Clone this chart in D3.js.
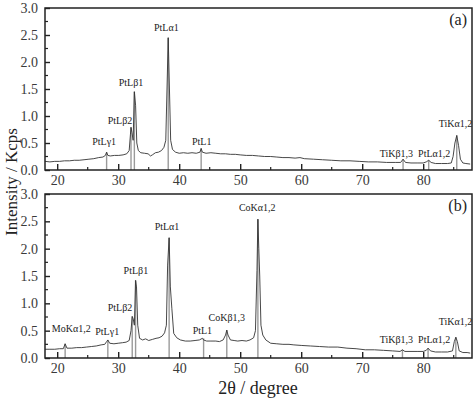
<!DOCTYPE html>
<html>
<head>
<meta charset="utf-8">
<script src="https://cdn.jsdelivr.net/npm/d3@7"></script>
<style>
  html, body { margin: 0; padding: 0; background: #fff; }
  svg, svg text { font-family: "Liberation Serif", "DejaVu Serif", serif; }
</style>
</head>
<body>
<div id="chart"></div>
<script>
// spectrum (a): [2theta, intensity]
const spectrumA = [
  [18.0,0.16],[18.8,0.15],[19.6,0.16],[20.4,0.16],[21.2,0.17],[22.0,0.17],[22.8,0.18],[23.6,0.18],
  [24.4,0.19],[25.2,0.20],[26.0,0.21],[26.8,0.23],[27.5,0.24],[27.9,0.27],[28.1,0.33],[28.3,0.27],
  [28.7,0.26],[29.4,0.27],[30.1,0.27],[30.8,0.28],[31.4,0.30],[31.8,0.36],[32.0,0.65],[32.1,0.79],
  [32.25,0.70],[32.45,0.55],[32.65,1.45],[32.85,1.20],[33.05,0.50],[33.3,0.36],[33.7,0.32],[34.3,0.31],
  [34.9,0.30],[35.3,0.26],[35.6,0.28],[36.1,0.32],[36.6,0.33],[37.1,0.36],[37.5,0.42],[37.8,0.55],
  [38.0,1.50],[38.2,2.45],[38.4,1.50],[38.6,0.55],[38.9,0.38],[39.4,0.33],[40.0,0.31],[40.7,0.32],
  [41.4,0.31],[42.1,0.32],[42.8,0.31],[43.4,0.33],[43.6,0.40],[43.8,0.33],[44.4,0.31],[45.2,0.32],
  [46.0,0.31],[46.8,0.30],[47.6,0.30],[48.4,0.29],[49.2,0.29],[50.0,0.28],[51.0,0.27],[52.0,0.27],
  [53.0,0.26],[54.0,0.25],[55.0,0.25],[56.0,0.24],[57.0,0.23],[58.0,0.23],[59.0,0.22],[59.8,0.23],
  [60.5,0.21],[62.0,0.20],[63.5,0.19],[65.0,0.18],[66.5,0.17],[68.0,0.17],[69.5,0.16],[71.0,0.15],
  [72.5,0.15],[74.0,0.14],[75.5,0.14],[76.3,0.14],[76.7,0.20],[77.1,0.14],[78.0,0.13],[79.0,0.13],
  [80.0,0.13],[80.5,0.15],[80.9,0.18],[81.3,0.14],[82.0,0.12],[83.0,0.12],[84.0,0.12],[84.6,0.13],
  [84.9,0.25],[85.2,0.50],[85.5,0.64],[85.8,0.45],[86.1,0.20],[86.5,0.13],[87.0,0.12],[87.7,0.11]
];

// spectrum (b)
const spectrumB = [
  [18.0,0.16],[18.8,0.16],[19.6,0.16],[20.4,0.17],[21.0,0.17],[21.3,0.26],[21.6,0.18],[22.4,0.18],
  [23.2,0.19],[24.0,0.19],[24.8,0.20],[25.6,0.21],[26.4,0.22],[27.2,0.24],[27.8,0.25],[28.1,0.30],
  [28.3,0.33],[28.6,0.27],[29.3,0.26],[30.0,0.27],[30.7,0.28],[31.3,0.29],[31.8,0.32],[32.1,0.50],
  [32.3,0.76],[32.45,0.72],[32.65,0.60],[32.85,1.42],[33.0,1.30],[33.2,0.60],[33.5,0.36],[34.0,0.33],
  [34.5,0.35],[35.0,0.32],[35.6,0.34],[36.2,0.36],[36.7,0.37],[37.2,0.40],[37.6,0.46],[37.9,0.60],
  [38.1,1.70],[38.35,2.20],[38.55,1.30],[38.8,0.90],[39.1,0.45],[39.6,0.37],[40.2,0.33],[41.0,0.31],
  [41.8,0.31],[42.6,0.32],[43.3,0.33],[43.8,0.36],[44.0,0.33],[44.5,0.31],[45.2,0.31],[46.0,0.31],
  [46.6,0.30],[47.2,0.33],[47.6,0.42],[47.8,0.51],[48.0,0.42],[48.4,0.33],[49.0,0.32],[49.6,0.31],
  [50.3,0.32],[51.0,0.31],[51.6,0.33],[52.2,0.37],[52.5,0.50],[52.75,1.60],[52.9,2.54],[53.05,2.00],
  [53.2,1.50],[53.4,0.60],[53.7,0.42],[54.2,0.33],[55.0,0.27],[56.0,0.26],[57.0,0.25],[58.0,0.25],
  [58.8,0.24],[60.0,0.23],[61.5,0.22],[63.0,0.21],[64.5,0.20],[66.0,0.20],[67.5,0.18],[69.0,0.17],
  [70.5,0.15],[72.0,0.15],[73.5,0.14],[75.0,0.13],[76.2,0.12],[76.6,0.15],[77.0,0.12],[78.0,0.12],
  [79.0,0.12],[80.0,0.12],[80.5,0.14],[80.8,0.18],[81.2,0.13],[82.0,0.11],[83.0,0.11],[84.0,0.11],
  [84.8,0.13],[85.1,0.30],[85.35,0.38],[85.6,0.30],[85.9,0.13],[86.5,0.10],[87.2,0.10],[87.7,0.09]
];

// peak marker lines [2theta, height]
const sticksA = [[28.1,0.33],[32.1,0.79],[32.65,1.45],[38.2,2.45],[43.6,0.40],[76.7,0.20],[80.9,0.18],[85.5,0.64]];
const sticksB = [[21.3,0.26],[28.3,0.33],[32.3,0.76],[32.85,1.42],[38.35,2.20],[44.0,0.36],[47.8,0.51],[52.9,2.54],[76.6,0.15],[80.8,0.18],[85.35,0.38]];

// peak labels [text, 2theta, intensity] (text centre)
const labelsA = [
  ['PtLγ1',27.7,0.50],['PtLβ2',30.3,0.90],['PtLβ1',32.1,1.60],['PtLα1',37.9,2.61],['PtL1',43.7,0.50],
  ['TiKβ1,3',75.6,0.29],['PtLα1,2',81.8,0.29],['TiKα1,2',85.3,0.84]
];
const labelsB = [
  ['MoKα1,2',22.3,0.51],['PtLγ1',28.2,0.47],['PtLβ2',30.3,0.91],['PtLβ1',32.9,1.58],['PtLα1',38.0,2.38],
  ['PtL1',43.8,0.48],['CoKβ1,3',47.8,0.72],['CoKα1,2',52.8,2.73],['TiKβ1,3',75.6,0.31],['PtLα1,2',81.8,0.31],
  ['TiKα1,2',85.3,0.65]
];

const xTicks = [20, 30, 40, 50, 60, 70, 80];
const yTicks = [0.0, 0.5, 1.0, 1.5, 2.0, 2.5, 3.0];

const serif = '"Liberation Serif", "DejaVu Serif", serif';
const width = 474, height = 399;
const svg = d3.select('#chart').append('svg')
  .attr('width', width)
  .attr('height', height);

const x = d3.scaleLinear().domain([18, 88]).range([45, 472]);

const panels = [
  { data: spectrumA, sticks: sticksA, labels: labelsA, tag: '(a)', top: 8, bottom: 170 },
  { data: spectrumB, sticks: sticksB, labels: labelsB, tag: '(b)', top: 194, bottom: 358 }
];

panels.forEach(p => {
  const y = d3.scaleLinear().domain([0, 3]).range([p.bottom, p.top]);
  const g = svg.append('g');

  // marker sticks
  g.selectAll('.stick')
    .data(p.sticks)
    .enter()
    .append('line')
    .attr('x1', d => x(d[0])).attr('x2', d => x(d[0]))
    .attr('y1', y(0)).attr('y2', d => y(d[1]))
    .attr('stroke', '#9a9a9a')
    .attr('stroke-width', 1.4);

  const line = d3.line().x(d => x(d[0])).y(d => y(d[1]));
  g.append('path')
    .attr('d', line(p.data))
    .attr('fill', 'none')
    .attr('stroke', '#333')
    .attr('stroke-width', 0.9)
    .attr('stroke-linejoin', 'round');

  // frame
  g.append('rect')
    .attr('x', x.range()[0]).attr('y', p.top)
    .attr('width', x.range()[1] - x.range()[0]).attr('height', p.bottom - p.top)
    .attr('fill', 'none')
    .attr('stroke', '#222')
    .attr('stroke-width', 1.5);

  // bottom axis, ticks inward
  const xAxis = g.append('g')
    .attr('transform', `translate(0,${p.bottom})`)
    .call(d3.axisBottom(x).tickValues(xTicks).tickSizeInner(-6).tickSizeOuter(0).tickPadding(5));
  xAxis.attr('font-family', serif).attr('font-size', 14);
  xAxis.select('.domain').remove();
  xAxis.selectAll('.tick line').attr('stroke', '#222').attr('stroke-width', 1.4);
  xAxis.selectAll('text').attr('fill', '#3a3a3a');

  const xMinor = d3.range(25, 88, 10);
  g.selectAll('.xminor')
    .data(xMinor)
    .enter()
    .append('line')
    .attr('x1', d => x(d)).attr('x2', d => x(d))
    .attr('y1', p.bottom).attr('y2', p.bottom - 3)
    .attr('stroke', '#222').attr('stroke-width', 1.2);

  // left axis
  const yAxis = g.append('g')
    .attr('transform', `translate(${x.range()[0]},0)`)
    .call(d3.axisLeft(y).tickValues(yTicks).tickFormat(d3.format('.1f'))
      .tickSizeInner(-5).tickSizeOuter(0).tickPadding(7));
  yAxis.attr('font-family', serif).attr('font-size', 14);
  yAxis.select('.domain').remove();
  yAxis.selectAll('.tick line').attr('stroke', '#222').attr('stroke-width', 1.4);
  yAxis.selectAll('text').attr('fill', '#3a3a3a');

  const yMinor = d3.range(0.25, 3, 0.5);
  g.selectAll('.yminor')
    .data(yMinor)
    .enter()
    .append('line')
    .attr('x1', x.range()[0]).attr('x2', x.range()[0] + 3)
    .attr('y1', d => y(d)).attr('y2', d => y(d))
    .attr('stroke', '#222').attr('stroke-width', 1.2);

  // peak labels
  g.selectAll('.peak-label')
    .data(p.labels)
    .enter()
    .append('text')
    .attr('x', d => x(d[1]))
    .attr('y', d => y(d[2]))
    .attr('text-anchor', 'middle')
    .attr('dominant-baseline', 'middle')
    .attr('font-size', 10)
    .attr('fill', '#222')
    .text(d => d[0]);

  g.append('text')
    .attr('x', x.range()[1] - 5)
    .attr('y', p.top + 17)
    .attr('text-anchor', 'end')
    .attr('font-size', 16)
    .attr('fill', '#222')
    .text(p.tag);
});

svg.append('text')
  .attr('transform', 'rotate(-90)')
  .attr('x', -182)
  .attr('y', 17)
  .attr('text-anchor', 'middle')
  .attr('font-size', 17)
  .attr('fill', '#222')
  .text('Intensity / Kcps');

svg.append('text')
  .attr('x', 258)
  .attr('y', 394)
  .attr('text-anchor', 'middle')
  .attr('font-size', 18)
  .attr('fill', '#222')
  .text('2θ / degree');
</script>
</body>
</html>
